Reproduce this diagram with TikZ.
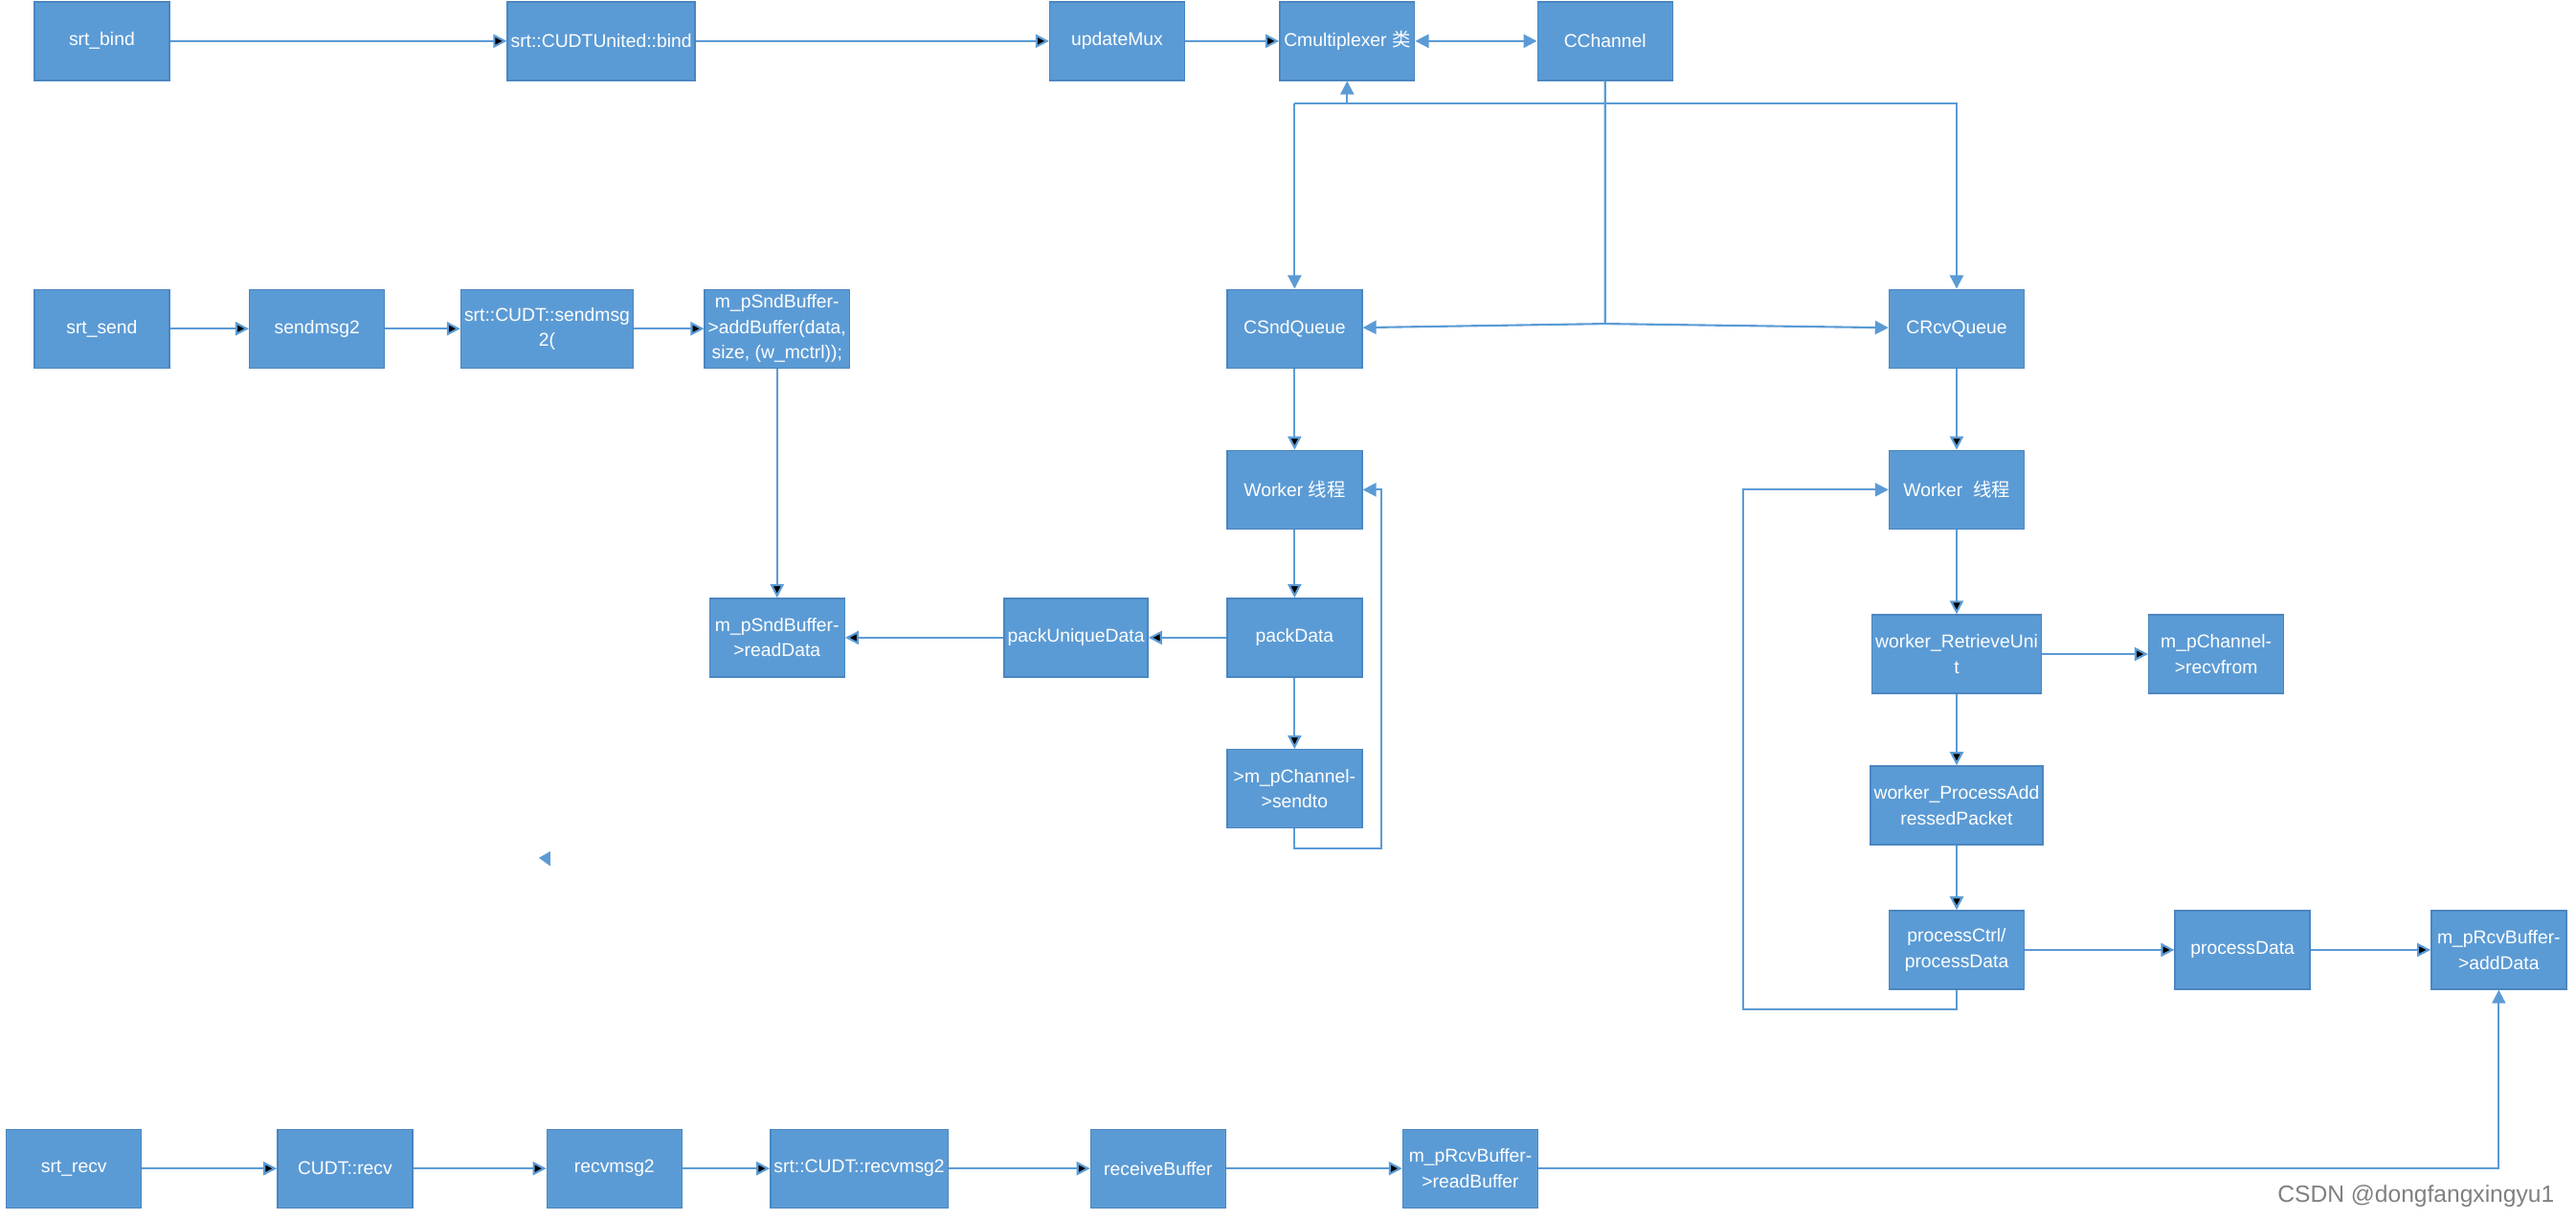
\documentclass[tikz,border=0pt]{standalone}
\usepackage{fontspec}
\setmainfont{Liberation Sans}
\newfontfamily\cjk{Noto Sans CJK SC}
\usetikzlibrary{arrows.meta}
\definecolor{boxblue}{HTML}{5B9BD5}
\definecolor{boxedge}{HTML}{4A86C0}
\tikzset{
  blk/.style={draw=boxedge,fill=boxblue,text=white,minimum width=1.41cm,minimum height=0.82cm,
    inner sep=1pt,align=center,font=\fontsize{5.5}{7.5}\selectfont},
  link/.style={draw=boxblue,line width=0.6pt,-{Triangle[length=4pt,width=4pt]}},
}
\begin{document}
\begin{tikzpicture}[x=0.01716cm,y=-0.01716cm]
   \useasboundingbox (0,0) rectangle (1568,742);
   % top row
   \node[blk] (bind)   at (62,25)  {srt\_bind};
   \node[blk] (ubind)  at (366,25) {srt::CUDTUnited::bind};
   \node[blk] (umux)   at (680,25) {updateMux};
   \node[blk] (mux)    at (820,25) {Cmultiplexer {\cjk 类}};
   \node[blk] (chan)   at (977,25) {CChannel};
   % send row
   \node[blk] (send)   at (62,200)  {srt\_send};
   \node[blk] (smsg)   at (193,200) {sendmsg2};
   \node[blk] (csmsg)  at (333,200) {srt::CUDT::sendmsg\\2(};
   \node[blk] (addbuf) at (473,200) {m\_pSndBuffer-\\>addBuffer(data,\\size, (w\_mctrl));};
   \node[blk] (sq)     at (788,200)  {CSndQueue};
   \node[blk] (rq)     at (1191,200) {CRcvQueue};
   \node[blk] (swk)    at (788,298)  {Worker {\cjk 线程}};
   \node[blk] (rwk)    at (1191,298) {Worker\ \ {\cjk 线程}};
   \node[blk] (rdata)  at (473,388) {m\_pSndBuffer-\\>readData};
   \node[blk] (puniq)  at (655,388) {packUniqueData};
   \node[blk] (pdata)  at (788,388) {packData};
   \node[blk] (sendto) at (788,480) {>m\_pChannel-\\>sendto};
   \node[blk] (retr)   at (1191,398) {worker\_RetrieveUni\\t};
   \node[blk] (rfrom)  at (1349,398) {m\_pChannel-\\>recvfrom};
   \node[blk] (proc)   at (1191,490) {worker\_ProcessAdd\\ressedPacket};
   \node[blk] (pctrl)  at (1191,578) {processCtrl/\\processData};
   \node[blk] (pdat2)  at (1365,578) {processData};
   \node[blk] (adddat) at (1521,578) {m\_pRcvBuffer-\\>addData};
   % recv row
   \node[blk] (recv)   at (45,711)  {srt\_recv};
   \node[blk] (crecv)  at (210,711) {CUDT::recv};
   \node[blk] (rmsg)   at (374,711) {recvmsg2};
   \node[blk] (crmsg)  at (523,711) {srt::CUDT::recvmsg2};
   \node[blk] (rbuf)   at (705,711) {receiveBuffer};
   \node[blk] (rdbuf)  at (895,711) {m\_pRcvBuffer-\\>readBuffer};
   \node[text=gray,font=\fontsize{7}{8}\selectfont,anchor=east] (mark) at (1562,728) {CSDN @dongfangxingyu1};

   \path[link] (bind) edge (ubind) (ubind) edge (umux) (umux) edge (mux);
   \draw[link,{Triangle[length=4pt,width=4pt]}-{Triangle[length=4pt,width=4pt]}] (mux) -- (chan);
   \coordinate (j) at (977,197);
   \draw[link] (chan) -- (j) -- (sq);
   \draw[link] (j) -- (rq);
   \draw[link] (788,63) -- (sq);
   \draw[link] (788,63) -- (1191,63) -- (rq);
   \draw[link] (820,63) -- (mux);
   \path[link] (send) edge (smsg) (smsg) edge (csmsg) (csmsg) edge (addbuf)
               (addbuf) edge (rdata) (pdata) edge (puniq) (puniq) edge (rdata)
               (sq) edge (swk) (swk) edge (pdata) (pdata) edge (sendto)
               (rq) edge (rwk) (rwk) edge (retr) (retr) edge (proc) (proc) edge (pctrl)
               (retr) edge (rfrom) (pctrl) edge (pdat2) (pdat2) edge (adddat)
               (recv) edge (crecv) (crecv) edge (rmsg) (rmsg) edge (crmsg)
               (crmsg) edge (rbuf) (rbuf) edge (rdbuf);
   \draw[link] (sendto.south) -- ++(0,12) -| (841,298) -- (swk.east);
   \draw[link] (pctrl.south) -- ++(0,12) -| (1061,298) -- (rwk.west);
   \draw[link] (rdbuf.east) -| (adddat.south);
   \fill[boxblue] (328,522) -- (335,518) -- (335,527) -- cycle;
\end{tikzpicture}
\end{document}
